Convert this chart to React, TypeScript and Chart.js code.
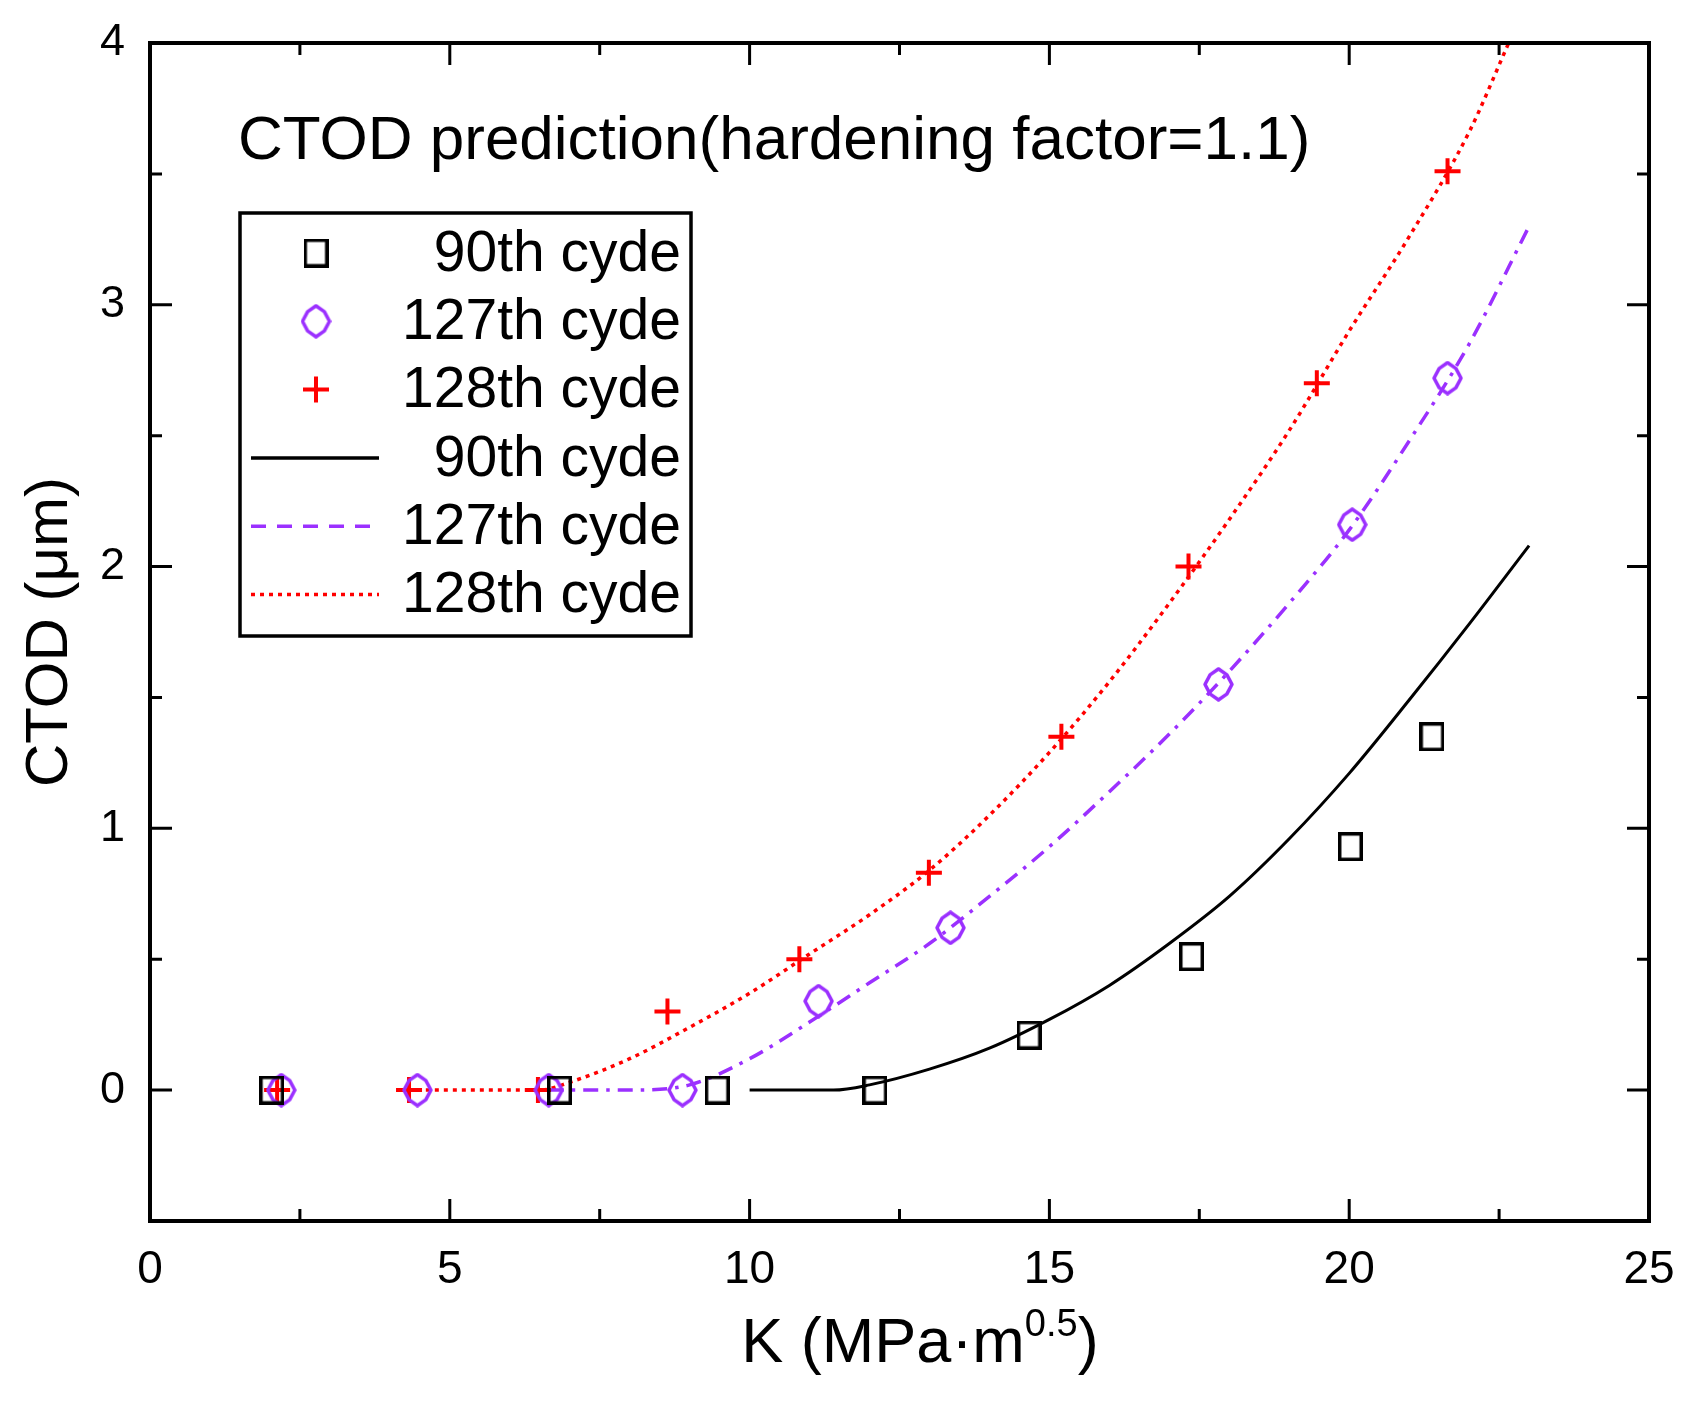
import React, { useEffect, useRef } from 'react';
import { Chart, registerables } from 'chart.js';

Chart.register(...registerables);

const FONT = '"Liberation Sans", Arial, Helvetica, sans-serif';
const PURPLE = '#9B30FF';
const RED = '#FF0000';

// ---- data (K in MPa·m^0.5, CTOD in µm) ----
const k90 = [2.03, 6.83, 9.46, 12.09, 14.66, 17.37, 20.02, 21.38];
const ctod90 = [0, 0, 0, 0, 0.21, 0.51, 0.93, 1.35];

const k127 = [2.19, 4.46, 6.65, 8.88, 11.15, 13.35, 17.82, 20.05, 21.64];
const ctod127 = [0, 0, 0, 0, 0.34, 0.62, 1.55, 2.16, 2.72];

const k128 = [2.12, 4.32, 6.47, 8.63, 10.83, 12.99, 15.2, 17.32, 19.46, 21.64];
const ctod128 = [0, 0, 0, 0.3, 0.5, 0.83, 1.35, 2.0, 2.7, 3.51];

const k90Fit = [10, 11, 11.4, 12, 13, 14, 15, 16, 17, 18, 19, 20, 21, 22, 23];
const ctod90Fit = [0, 0, 0, 0.02, 0.08, 0.16, 0.27, 0.4, 0.56, 0.74, 0.96, 1.21, 1.49, 1.78, 2.08];

const k127Fit = [6.65, 8, 9, 10, 11, 12, 13, 14, 15, 16, 17, 18, 19, 20, 21, 22, 23];
const ctod127Fit = [0, 0, 0.02, 0.12, 0.26, 0.41, 0.56, 0.74, 0.93, 1.14, 1.36, 1.6, 1.86, 2.14, 2.48, 2.85, 3.3];

const k128Fit = [4.3, 5, 6, 6.5, 7, 8, 9, 10, 11, 12, 13, 14, 15, 16, 17, 18, 19, 20, 21, 22, 22.66];
const ctod128Fit = [0, 0, 0, 0, 0.03, 0.12, 0.24, 0.37, 0.52, 0.67, 0.84, 1.05, 1.29, 1.56, 1.86, 2.18, 2.52, 2.9, 3.26, 3.66, 4.0];

const legendLabels = ['90th cyde', '127th cyde', '128th cyde', '90th cyde', '127th cyde', '128th cyde'];
const titleText = 'CTOD prediction(hardening factor=1.1)';
const yTitle = 'CTOD (μm)';
const xTitleMain = 'K (MPa·m';
const xTitleSup = '0.5';
const xTitleEnd = ')';

const xTickValues = [0, 2.5, 5, 7.5, 10, 12.5, 15, 17.5, 20, 22.5, 25];
const yTickValues = [0, 0.5, 1, 1.5, 2, 2.5, 3, 3.5, 4];

const pts = (xs: number[], ys: number[]) => xs.map((x, i) => ({ x, y: ys[i] }));

function makeSquare(): HTMLCanvasElement {
  const c = document.createElement('canvas');
  c.width = 25; c.height = 29;
  const g = c.getContext('2d')!;
  g.strokeStyle = '#000';
  g.lineWidth = 3.5;
  g.strokeRect(1.75, 1.75, 21.5, 25.5);
  return c;
}

function makeDiamond(): HTMLCanvasElement {
  const c = document.createElement('canvas');
  const W = 31, H = 35;
  c.width = W; c.height = H;
  const g = c.getContext('2d')!;
  g.strokeStyle = PURPLE;
  g.lineWidth = 3.5;
  g.lineJoin = 'round';
  const cx = W / 2, cy = H / 2, rx = W / 2 - 2, ry = H / 2 - 2;
  const d = 0.62;
  const P = [
    [cx, cy - ry], [cx + rx * d, cy - ry * d], [cx + rx, cy], [cx + rx * d, cy + ry * d],
    [cx, cy + ry], [cx - rx * d, cy + ry * d], [cx - rx, cy], [cx - rx * d, cy - ry * d],
  ];
  g.beginPath();
  P.forEach((p, i) => (i === 0 ? g.moveTo(p[0], p[1]) : g.lineTo(p[0], p[1])));
  g.closePath();
  g.stroke();
  return c;
}

function drawPlus(ctx: CanvasRenderingContext2D, x: number, y: number) {
  ctx.save();
  ctx.strokeStyle = RED;
  ctx.lineWidth = 4;
  ctx.setLineDash([]);
  ctx.beginPath();
  ctx.moveTo(x - 13, y); ctx.lineTo(x + 13, y);
  ctx.moveTo(x, y - 13); ctx.lineTo(x, y + 13);
  ctx.stroke();
  ctx.restore();
}

export default function App() {
  const ref = useRef<HTMLCanvasElement | null>(null);

  useEffect(() => {
    document.body.style.margin = '0';
    const canvas = ref.current;
    if (!canvas) return;
    const sq = makeSquare();
    const dia = makeDiamond();

    const decor = {
      id: 'decor',
      afterDraw(chart: any) {
        const ctx: CanvasRenderingContext2D = chart.ctx;
        const { left, right, top, bottom } = chart.chartArea;
        const xs = chart.scales.x;
        const ys = chart.scales.y;
        ctx.save();
        // ticks (inward)
        ctx.strokeStyle = '#000';
        ctx.lineWidth = 3;
        ctx.beginPath();
        for (const v of xTickValues) {
          const px = xs.getPixelForValue(v);
          const len = v % 5 === 0 ? 22 : 12;
          ctx.moveTo(px, bottom); ctx.lineTo(px, bottom - len);
          ctx.moveTo(px, top); ctx.lineTo(px, top + len);
        }
        for (const v of yTickValues) {
          const py = ys.getPixelForValue(v);
          const len = Number.isInteger(v) ? 22 : 12;
          ctx.moveTo(left, py); ctx.lineTo(left + len, py);
          ctx.moveTo(right, py); ctx.lineTo(right - len, py);
        }
        ctx.stroke();
        // frame
        ctx.lineWidth = 4;
        ctx.strokeRect(left, top, right - left, bottom - top);

        // title
        ctx.fillStyle = '#000';
        ctx.font = `62px ${FONT}`;
        ctx.textAlign = 'left';
        ctx.textBaseline = 'alphabetic';
        ctx.fillText(titleText, 238, 159);

        // legend box
        const lx = 240, ly = 213, lw = 451, lh = 423;
        ctx.fillStyle = '#fff';
        ctx.fillRect(lx, ly, lw, lh);
        ctx.lineWidth = 3.5;
        ctx.strokeStyle = '#000';
        ctx.strokeRect(lx, ly, lw, lh);
        const rowY = (i: number) => 253 + i * 68.3;
        // markers
        ctx.drawImage(sq, 316 - sq.width / 2, rowY(0) - sq.height / 2);
        ctx.drawImage(dia, 316 - dia.width / 2, rowY(1) - dia.height / 2);
        drawPlus(ctx, 316, rowY(2));
        // line samples
        const sample = (i: number, color: string, dash: number[], w: number) => {
          ctx.save();
          ctx.strokeStyle = color;
          ctx.lineWidth = w;
          ctx.setLineDash(dash);
          ctx.beginPath();
          ctx.moveTo(251, rowY(i));
          ctx.lineTo(379, rowY(i));
          ctx.stroke();
          ctx.restore();
        };
        sample(3, '#000', [], 3.5);
        sample(4, PURPLE, [15, 11], 3.5);
        sample(5, RED, [4, 5], 3.5);
        // legend text
        ctx.fillStyle = '#000';
        ctx.font = `57px ${FONT}`;
        ctx.textAlign = 'right';
        ctx.textBaseline = 'middle';
        legendLabels.forEach((t, i) => ctx.fillText(t, 681, rowY(i) + 2));

        // y title
        ctx.save();
        ctx.translate(50, (top + bottom) / 2);
        ctx.rotate(-Math.PI / 2);
        ctx.font = `60px ${FONT}`;
        ctx.textAlign = 'center';
        ctx.textBaseline = 'middle';
        ctx.fillText(yTitle, 0, 0);
        ctx.restore();

        // x title with superscript
        ctx.textAlign = 'left';
        ctx.textBaseline = 'alphabetic';
        ctx.font = `63px ${FONT}`;
        const w1 = ctx.measureText(xTitleMain).width;
        const w3 = ctx.measureText(xTitleEnd).width;
        ctx.font = `38px ${FONT}`;
        const w2 = ctx.measureText(xTitleSup).width;
        const total = w1 + w2 + w3;
        const x0 = 920 - total / 2;
        const base = 1362;
        ctx.font = `63px ${FONT}`;
        ctx.fillText(xTitleMain, x0, base);
        ctx.font = `38px ${FONT}`;
        ctx.fillText(xTitleSup, x0 + w1, base - 26);
        ctx.font = `63px ${FONT}`;
        ctx.fillText(xTitleEnd, x0 + w1 + w2, base);
        ctx.restore();
      },
    };

    const fitLine = (data: any, color: string, dash: number[], w: number) => ({
      type: 'line' as const,
      data,
      borderColor: color,
      borderWidth: w,
      borderDash: dash,
      pointRadius: 0,
      fill: false,
      cubicInterpolationMode: 'monotone' as const,
      showLine: true,
    });

    const chart = new Chart(canvas, {
      type: 'scatter',
      data: {
        datasets: [
          {
            label: '90th cyde',
            data: pts(k90, ctod90),
            pointStyle: sq,
            pointRadius: 12,
            showLine: false,
          },
          {
            label: '127th cyde',
            data: pts(k127, ctod127),
            pointStyle: dia,
            pointRadius: 14,
            showLine: false,
          },
          {
            label: '128th cyde',
            data: pts(k128, ctod128),
            pointStyle: 'cross',
            pointRadius: 13,
            borderColor: RED,
            backgroundColor: RED,
            borderWidth: 4,
            showLine: false,
          },
          { label: '90th cyde fit', ...fitLine(pts(k90Fit, ctod90Fit), '#000', [], 3) },
          { label: '127th cyde fit', ...fitLine(pts(k127Fit, ctod127Fit), PURPLE, [15, 8, 3.5, 8], 3.5) },
          { label: '128th cyde fit', ...fitLine(pts(k128Fit, ctod128Fit), RED, [4, 5], 3.5) },
        ] as any,
      },
      options: {
        animation: false,
        responsive: false,
        devicePixelRatio: 1,
        layout: { padding: { top: 43, right: 40, left: 0, bottom: 0 } },
        plugins: { legend: { display: false }, title: { display: false }, tooltip: { enabled: false } },
        scales: {
          x: {
            type: 'linear',
            min: 0,
            max: 25,
            grid: { display: false, drawTicks: false },
            border: { display: false },
            ticks: {
              stepSize: 5,
              padding: 22,
              color: '#000',
              font: { family: FONT, size: 46 },
              maxRotation: 0,
              autoSkip: false,
            },
            afterFit: (s: any) => {
              s.height = 1408 - 1221;
              s.paddingLeft = 0;
              s.paddingRight = 0;
            },
          },
          y: {
            type: 'linear',
            min: -0.5,
            max: 4,
            grid: { display: false, drawTicks: false },
            border: { display: false },
            ticks: {
              stepSize: 0.5,
              padding: 25,
              color: '#000',
              autoSkip: false,
              font: { family: FONT, size: 45 },
              callback: (v: any) => (Number.isInteger(Number(v)) ? String(v) : ''),
            },
            afterFit: (s: any) => {
              s.width = 150;
              s.paddingTop = 0;
              s.paddingBottom = 0;
            },
          },
        },
      },
      plugins: [decor],
    } as any);

    return () => chart.destroy();
  }, []);

  return (
    <div style={{ position: 'absolute', left: 0, top: 0, width: 1689, height: 1408, background: '#fff' }}>
      <canvas ref={ref} width={1689} height={1408} style={{ width: 1689, height: 1408 }} />
    </div>
  );
}
